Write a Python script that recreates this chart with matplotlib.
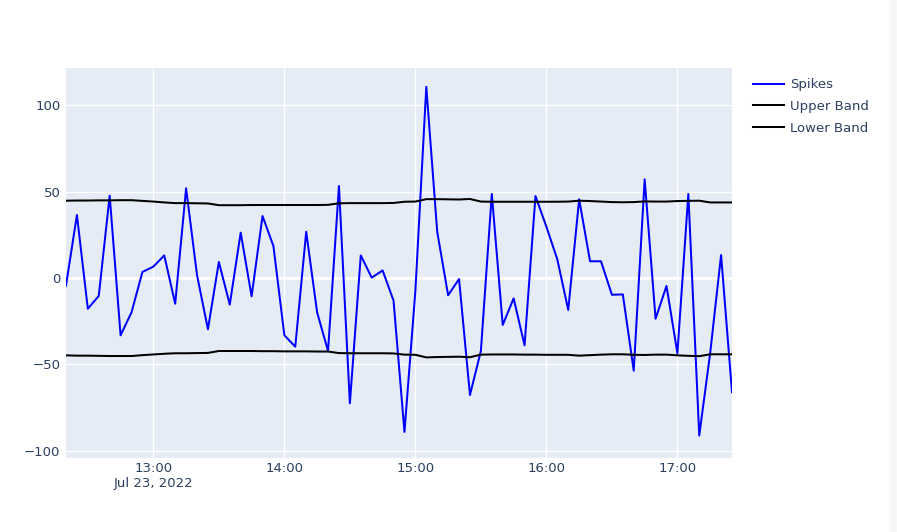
import numpy as np
import pandas as pd
import matplotlib
matplotlib.use("Agg")
import matplotlib.pyplot as plt
import matplotlib.dates as mdates
from matplotlib.patches import Rectangle

# 5-minute samples, 12:20 -> 17:25 on Jul 23, 2022
inicio = "2022-07-23 12:20"
n_pontos = 62

spikes = [
  -4.4, 36.5, -17.8, -10.4, 47.7, -33.2, -19.9, 3.5, 6.6, 13.1,
  -14.9, 52.0, 1.7, -29.7, 9.3, -15.4, 26.3, -10.6, 35.9, 18.5,
  -33.2, -39.8, 26.8, -19.9, -42.3, 53.3, -72.6, 13.1, 0.2, 4.4,
  -13.1, -89.2, -7.5, 110.8, 26.8, -10.0, -0.6, -67.8, -42.3, 48.7,
  -27.2, -11.8, -39.0, 47.5, 29.7, 10.8, -18.5, 45.6, 9.7, 9.7,
  -9.7, -9.5, -53.7, 57.2, -23.6, -4.6, -43.6, 48.7, -91.3, -43.6,
  13.3, -66.2,
]

upper_band = [
  44.8, 44.9, 44.9, 45.0, 45.0, 45.1, 45.1, 44.7, 44.3, 43.8,
  43.4, 43.4, 43.3, 43.2, 42.2, 42.2, 42.2, 42.3, 42.3, 42.3,
  42.3, 42.3, 42.3, 42.3, 42.4, 43.3, 43.4, 43.4, 43.4, 43.4,
  43.5, 44.2, 44.3, 45.7, 45.7, 45.6, 45.5, 45.8, 44.3, 44.2,
  44.2, 44.2, 44.2, 44.2, 44.2, 44.2, 44.3, 44.8, 44.6, 44.3,
  44.0, 43.9, 44.0, 44.4, 44.3, 44.3, 44.6, 44.7, 44.8, 43.8,
  43.8, 43.8,
]

lower_band = [
  -44.8, -45.0, -45.0, -45.1, -45.2, -45.2, -45.2, -44.7, -44.3, -43.9,
  -43.6, -43.6, -43.5, -43.4, -42.3, -42.3, -42.3, -42.3, -42.4, -42.4,
  -42.5, -42.5, -42.5, -42.6, -42.6, -43.5, -43.6, -43.6, -43.6, -43.6,
  -43.7, -44.4, -44.5, -46.0, -45.8, -45.7, -45.6, -45.9, -44.4, -44.3,
  -44.3, -44.3, -44.4, -44.4, -44.5, -44.5, -44.5, -45.0, -44.7, -44.4,
  -44.2, -44.2, -44.5, -44.6, -44.4, -44.4, -44.8, -45.1, -45.3, -44.2,
  -44.2, -44.2,
]

y_ticks = [-100, -50, 0, 50, 100]
x_ticks = ["13:00", "14:00", "15:00", "16:00", "17:00"]

tempos = pd.date_range(inicio, periods=n_pontos, freq="5min")

COR_TEXTO = "#2a3f5f"
COR_FUNDO = "#e5ecf6"
TAM_FONTE = 9.5

plt.rcParams["font.family"] = ["DejaVu Sans"]

fig = plt.figure(figsize=(8.97, 5.32), dpi=100)
ax = fig.add_axes([66 / 897, 74 / 532, 666 / 897, 390 / 532])
ax.set_facecolor(COR_FUNDO)

# faixa cinza clara na borda direita
fig.patches.append(Rectangle((890 / 897, 0), 7 / 897, 1, transform=fig.transFigure,
                             color="#f7f7f7", zorder=0))

lw = 1.45
ax.plot(tempos, spikes, color="#0000ff", lw=lw, label="Spikes", zorder=3)
ax.plot(tempos, upper_band, color="black", lw=lw, label="Upper Band", zorder=3)
ax.plot(tempos, lower_band, color="black", lw=lw, label="Lower Band", zorder=3)

ax.set_xlim(tempos[0], tempos[-1])
ax.set_ylim(-104.3, 121.7)

# grade
ticks_x = [pd.Timestamp("2022-07-23 " + t) for t in x_ticks]
ax.set_xticks(ticks_x)
rotulos_x = [t if i > 0 else t + "\nJul 23, 2022" for i, t in enumerate(x_ticks)]
ax.set_xticklabels(rotulos_x, linespacing=1.2)
ax.set_yticks(y_ticks)
ax.set_yticklabels([str(v).replace("-", "\u2212") for v in y_ticks])
for v in y_ticks:
  ax.axhline(v, color="white", lw=2.0 if v == 0 else 1.0, zorder=1)
for t in ticks_x:
  ax.axvline(t, color="white", lw=1.0, zorder=1)

ax.tick_params(axis="both", length=0, colors=COR_TEXTO, labelsize=TAM_FONTE)
ax.tick_params(axis="x", pad=3)
ax.tick_params(axis="y", pad=4)
for s in ax.spines.values():
  s.set_visible(False)

leg = ax.legend(loc="upper left", bbox_to_anchor=(748 / 897, 459 / 532),
                bbox_transform=fig.transFigure, frameon=False, fontsize=TAM_FONTE,
                handlelength=2.35, handletextpad=0.45, labelspacing=0.66,
                borderaxespad=0)
for txt in leg.get_texts():
  txt.set_color(COR_TEXTO)

fig.savefig("out.png", dpi=100)
